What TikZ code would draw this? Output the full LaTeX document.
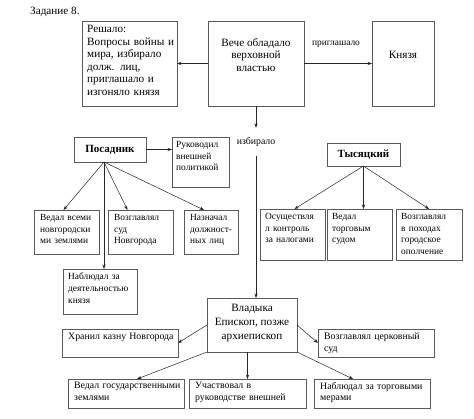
\documentclass[tikz,border=0pt]{standalone}
\usepackage{fontspec}
\setmainfont{Liberation Serif}
\usetikzlibrary{arrows.meta,calc}
\tikzset{
  box/.style={draw=black!65, line width=0.6pt, inner sep=0pt, outer sep=0pt},
  tl/.style={inner sep=0pt, align=left},
  big/.style={font=\fontsize{11.2}{12.6}\selectfont},
  sm/.style={font=\fontsize{9.4}{11.7}\selectfont},
  md/.style={font=\fontsize{9.8}{11.5}\selectfont},
  arr/.style={draw=black!85, line width=0.5pt, -{Stealth[length=4.5pt,width=3.2pt]}},
}
\newcommand{\ltbox}[9]{%
  \node[box, anchor=north west, minimum width={#4-#2}, minimum height={#5-#3}] (#1) at (#2,#3) {};
  \node[tl, #9, anchor=north west, text width={#4-#2-#6-1}] (#1t) at ([shift={(#6,#7)}]#1.north west) {#8};
}
\begin{document}
\begin{tikzpicture}[x=1pt,y=-1pt]
\useasboundingbox (0,0) rectangle (474,419);
\fill[white] (0,0) rectangle (474,419);

\node[big, anchor=west, inner sep=0pt] (title) at (30,12) {Задание 8.};

% top row
\ltbox{resh}{82}{21}{177}{106}{5}{4}{Решало:\\Вопросы войны и\\мира, избирало\\долж. лиц,\\приглашало и\\изгоняло князя}{big}
\node[box, anchor=north west, minimum width=96, minimum height=85] (veche) at (208,21) {};
\node[big, inner sep=0pt, align=center] (vechet) at (256,55) {Вече обладало\\верховной\\властью};
\node[box, anchor=north west, minimum width=62, minimum height=85] (knyaz) at (372,21) {};
\node[big, inner sep=0pt] (knyazt) at (403,55) {Князя};
\node[sm, inner sep=0pt] (prigl) at (336,44) {приглашало};

\draw[arr] (veche.west) -- (resh.east);
\draw[arr] (veche.east) -- (knyaz.west);

\node[md, inner sep=0pt, minimum height=28pt] (izb) at (256,142) {избирало};
\draw[arr] (veche.south) -- (izb.north);

% Posadnik
\node[box, anchor=north west, minimum width=72, minimum height=25, font=\fontsize{11}{12}\selectfont\bfseries] (posad) at (74,137) {Посадник};
\ltbox{ruk}{172}{137}{229}{187}{4}{4}{Руководил\\внешней\\политикой}{sm}
\draw[arr] (posad.east) -- (posad.east -| ruk.west);

\ltbox{ved}{34}{210}{99}{254}{6}{4}{Ведал всеми\\новгородски\\ми землями}{sm}
\ltbox{voz}{108}{210}{173}{254}{6}{4}{Возглавлял\\суд\\Новгорода}{sm}
\ltbox{naz}{184}{210}{238}{254}{6}{4}{Назначал\\должност-\\ных лиц}{sm}
\ltbox{nabl}{63}{269}{137}{314}{5}{4}{Наблюдал за\\деятельностью\\князя}{sm}

\coordinate (po) at ([xshift=-6pt]posad.south);
\draw[arr] (po) -- ([xshift=-3pt]ved.north);
\draw[arr] (po) -- ([xshift=-13pt]voz.north);
\draw[arr] (po) -- ([xshift=-7pt]naz.north);
\draw[arr] (po) -- (po |- nabl.north);

% Tysyatsky
\node[box, anchor=north west, minimum width=73, minimum height=23, font=\fontsize{11}{12}\selectfont\bfseries] (tys) at (327,143) {Тысяцкий};
\ltbox{osu}{260}{209}{325}{260}{5}{4}{Осуществля\\л контроль\\за налогами}{sm}
\ltbox{vedt}{327}{209}{392}{260}{5}{4}{Ведал\\торговым\\судом}{sm}
\ltbox{vozp}{396}{209}{462}{260}{5}{4}{Возглавлял\\в походах\\городское\\ополчение}{sm}
\draw[arr] (tys.south) -- ([xshift=2pt]osu.north);
\draw[arr] (tys.south) -- (tys.south |- vedt.north);
\draw[arr] (tys.south) -- (vozp.north);

% Vladyka
\node[box, anchor=north west, minimum width=90, minimum height=54] (vlad) at (207,298) {};
\node[inner sep=0pt, align=center, font=\fontsize{11.2}{14}\selectfont] (vladt) at (252,323) {Владыка\\Епископ, позже\\архиепископ};
\draw[arr] (izb.south) -- (izb.south |- vlad.north);

\ltbox{hran}{62}{329}{178}{357}{6}{4}{Хранил казну Новгорода}{md}
\ltbox{cerk}{318}{329}{434}{357}{6}{4}{Возглавлял церковный\\суд}{md}
\ltbox{vedg}{68}{379}{184}{408}{6}{3}{Ведал государственными\\землями}{md}
\ltbox{uch}{189}{379}{306}{408}{6}{3}{Участвовал в\\руководстве внешней}{md}
\ltbox{nabt}{314}{379}{430}{408}{6}{3}{Наблюдал за торговыми\\мерами}{md}

\draw[arr] (vlad.west) -- (hran.east);
\draw[arr] (vlad.east) -- (cerk.west);
\draw[arr] (vlad.south west) -- ([xshift=11pt]vedg.north);
\draw[arr] (uch.north |- vlad.south) -- (uch.north);
\draw[arr] (vlad.south east) -- ([xshift=-19pt]nabt.north);
\end{tikzpicture}
\end{document}
